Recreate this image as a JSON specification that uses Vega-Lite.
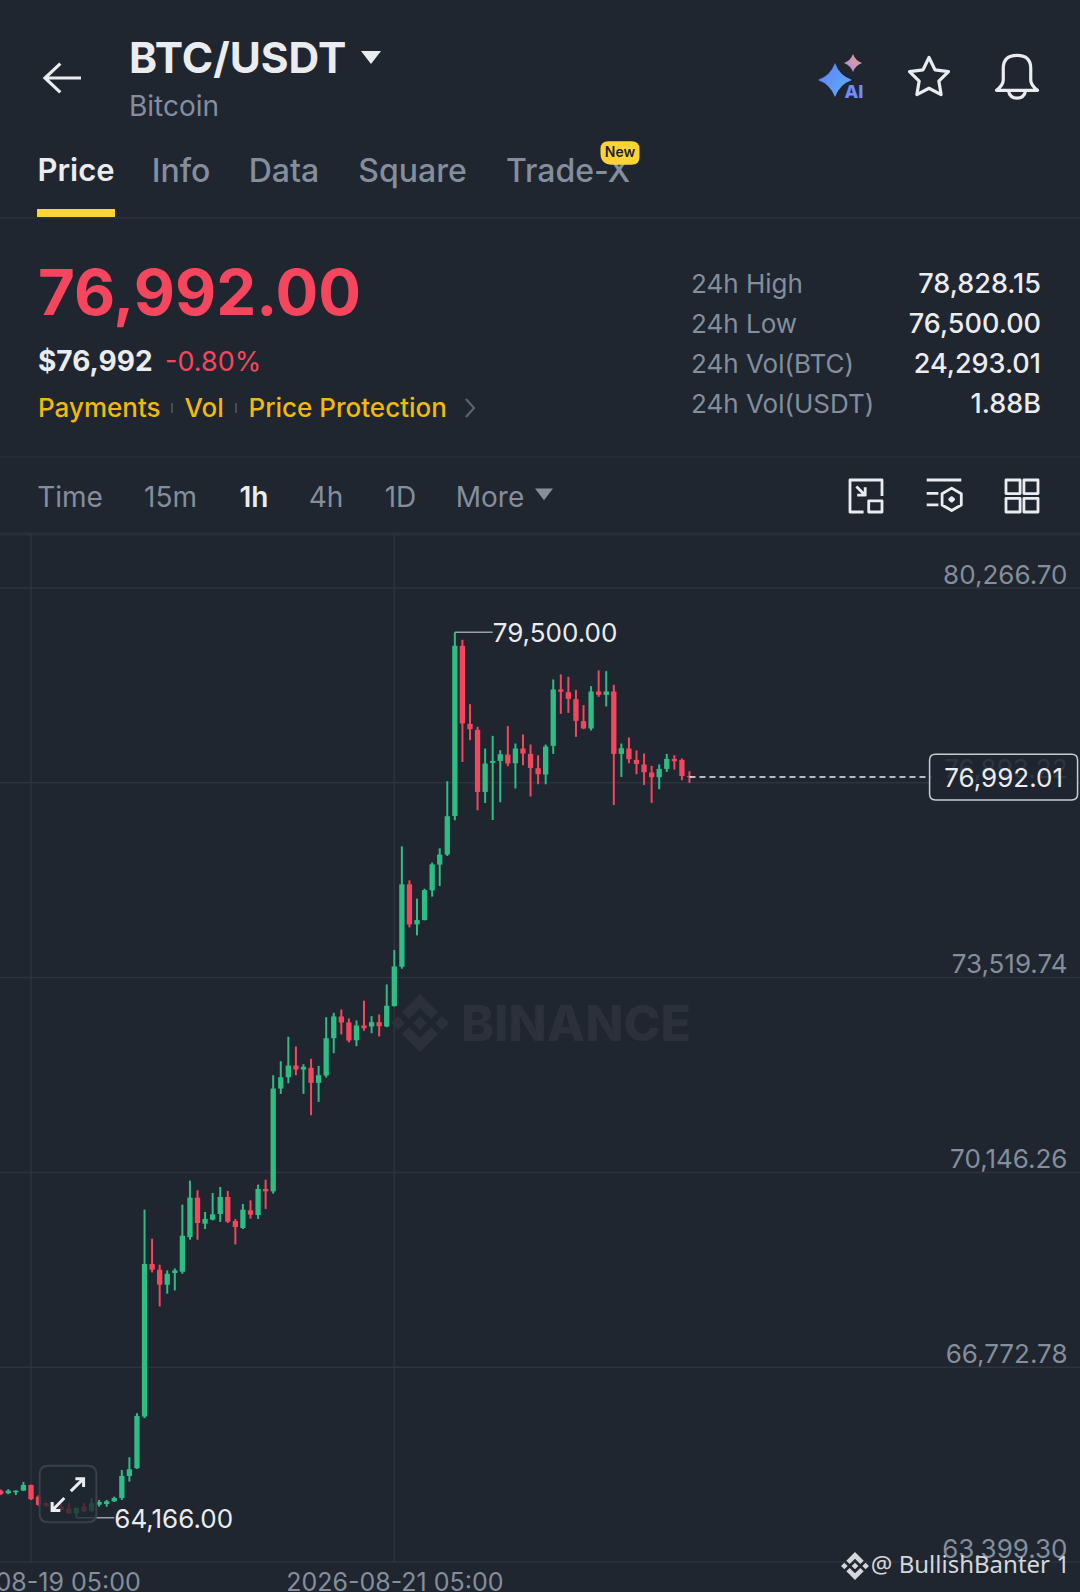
{
  "$schema": "https://vega.github.io/schema/vega-lite/v6.json",
  "width": 1080,
  "height": 1592,
  "autosize": {"type": "none"},
  "padding": 0,
  "background": "#1f2630",
  "config": {"view": {"stroke": null}, "font": "Inter", "scale": {"pointPadding": 0}},
  "resolve": {"scale": {"x": "independent", "y": "independent", "shape": "independent"}},
  "datasets": {
    "candles": [
      {"t":"2026-08-19T01:00","o":64635,"h":64656,"l":64560,"c":64578},
      {"t":"2026-08-19T02:00","o":64590,"h":64659,"l":64573,"c":64635},
      {"t":"2026-08-19T03:00","o":64607,"h":64640,"l":64560,"c":64635},
      {"t":"2026-08-19T04:00","o":64635,"h":64786,"l":64630,"c":64734},
      {"t":"2026-08-19T05:00","o":64734,"h":64739,"l":64474,"c":64486},
      {"t":"2026-08-19T06:00","o":64531,"h":64555,"l":64370,"c":64387},
      {"t":"2026-08-19T07:00","o":64417,"h":64427,"l":64358,"c":64370},
      {"t":"2026-08-19T08:00","o":64387,"h":64422,"l":64318,"c":64344},
      {"t":"2026-08-19T09:00","o":64358,"h":64404,"l":64288,"c":64300},
      {"t":"2026-08-19T10:00","o":64323,"h":64417,"l":64231,"c":64243},
      {"t":"2026-08-19T11:00","o":64243,"h":64347,"l":64166,"c":64335},
      {"t":"2026-08-19T12:00","o":64358,"h":64417,"l":64266,"c":64278},
      {"t":"2026-08-19T13:00","o":64288,"h":64508,"l":64266,"c":64417},
      {"t":"2026-08-19T14:00","o":64392,"h":64474,"l":64358,"c":64439},
      {"t":"2026-08-19T15:00","o":64404,"h":64474,"l":64358,"c":64451},
      {"t":"2026-08-19T16:00","o":64451,"h":64531,"l":64439,"c":64508},
      {"t":"2026-08-19T17:00","o":64508,"h":64994,"l":64474,"c":64890},
      {"t":"2026-08-19T18:00","o":64890,"h":65214,"l":64791,"c":65006},
      {"t":"2026-08-19T19:00","o":65023,"h":65977,"l":65011,"c":65930},
      {"t":"2026-08-19T20:00","o":65918,"h":69501,"l":65890,"c":68560},
      {"t":"2026-08-19T21:00","o":68560,"h":68998,"l":68414,"c":68461},
      {"t":"2026-08-19T22:00","o":68461,"h":68547,"l":67825,"c":68201},
      {"t":"2026-08-19T23:00","o":68201,"h":68449,"l":68045,"c":68391},
      {"t":"2026-08-20T00:00","o":68404,"h":68483,"l":68102,"c":68449},
      {"t":"2026-08-20T01:00","o":68426,"h":69588,"l":68391,"c":69050},
      {"t":"2026-08-20T02:00","o":69028,"h":70004,"l":68981,"c":69709},
      {"t":"2026-08-20T03:00","o":69709,"h":69836,"l":68981,"c":69270},
      {"t":"2026-08-20T04:00","o":69258,"h":69461,"l":69166,"c":69340},
      {"t":"2026-08-20T05:00","o":69328,"h":69791,"l":69315,"c":69420},
      {"t":"2026-08-20T06:00","o":69426,"h":69894,"l":69288,"c":69721},
      {"t":"2026-08-20T07:00","o":69721,"h":69825,"l":69270,"c":69293},
      {"t":"2026-08-20T08:00","o":69305,"h":69340,"l":68899,"c":69201},
      {"t":"2026-08-20T09:00","o":69184,"h":69600,"l":69166,"c":69501},
      {"t":"2026-08-20T10:00","o":69489,"h":69662,"l":69345,"c":69414},
      {"t":"2026-08-20T11:00","o":69409,"h":69934,"l":69340,"c":69860},
      {"t":"2026-08-20T12:00","o":69860,"h":70021,"l":69513,"c":69818},
      {"t":"2026-08-20T13:00","o":69818,"h":71829,"l":69778,"c":71598},
      {"t":"2026-08-20T14:00","o":71598,"h":72072,"l":71506,"c":71794},
      {"t":"2026-08-20T15:00","o":71794,"h":72495,"l":71690,"c":71997},
      {"t":"2026-08-20T16:00","o":71997,"h":72327,"l":71829,"c":71928},
      {"t":"2026-08-20T17:00","o":71928,"h":72020,"l":71506,"c":71975},
      {"t":"2026-08-20T18:00","o":71957,"h":72113,"l":71136,"c":71697},
      {"t":"2026-08-20T19:00","o":71697,"h":71992,"l":71368,"c":71829},
      {"t":"2026-08-20T20:00","o":71824,"h":72835,"l":71789,"c":72470},
      {"t":"2026-08-20T21:00","o":72470,"h":72911,"l":72210,"c":72847},
      {"t":"2026-08-20T22:00","o":72847,"h":72968,"l":72535,"c":72743},
      {"t":"2026-08-20T23:00","o":72743,"h":72812,"l":72396,"c":72431},
      {"t":"2026-08-21T00:00","o":72436,"h":72777,"l":72332,"c":72691},
      {"t":"2026-08-21T01:00","o":72691,"h":73119,"l":72599,"c":72644},
      {"t":"2026-08-21T02:00","o":72673,"h":72852,"l":72557,"c":72748},
      {"t":"2026-08-21T03:00","o":72748,"h":72881,"l":72500,"c":72678},
      {"t":"2026-08-21T04:00","o":72673,"h":73401,"l":72661,"c":73032},
      {"t":"2026-08-21T05:00","o":73025,"h":73996,"l":73020,"c":73713},
      {"t":"2026-08-21T06:00","o":73708,"h":75794,"l":73673,"c":75135},
      {"t":"2026-08-21T07:00","o":75135,"h":75204,"l":74389,"c":74441},
      {"t":"2026-08-21T08:00","o":74441,"h":74887,"l":74251,"c":74516},
      {"t":"2026-08-21T09:00","o":74516,"h":75060,"l":74511,"c":75036},
      {"t":"2026-08-21T10:00","o":75031,"h":75511,"l":74922,"c":75481},
      {"t":"2026-08-21T11:00","o":75476,"h":75759,"l":75105,"c":75650},
      {"t":"2026-08-21T12:00","o":75650,"h":76920,"l":75625,"c":76314},
      {"t":"2026-08-21T13:00","o":76319,"h":79500,"l":76244,"c":79266},
      {"t":"2026-08-21T14:00","o":79266,"h":79370,"l":77255,"c":77921},
      {"t":"2026-08-21T15:00","o":77914,"h":78255,"l":77631,"c":77822},
      {"t":"2026-08-21T16:00","o":77810,"h":77862,"l":76418,"c":76735},
      {"t":"2026-08-21T17:00","o":76735,"h":77487,"l":76544,"c":77227},
      {"t":"2026-08-21T18:00","o":77238,"h":77706,"l":76249,"c":77272},
      {"t":"2026-08-21T19:00","o":77272,"h":77458,"l":76556,"c":77388},
      {"t":"2026-08-21T20:00","o":77383,"h":77874,"l":77180,"c":77227},
      {"t":"2026-08-21T21:00","o":77232,"h":77574,"l":76794,"c":77487},
      {"t":"2026-08-21T22:00","o":77487,"h":77730,"l":77198,"c":77400},
      {"t":"2026-08-21T23:00","o":77394,"h":77556,"l":76655,"c":77151},
      {"t":"2026-08-22T00:00","o":77146,"h":77371,"l":76868,"c":77042},
      {"t":"2026-08-22T01:00","o":77036,"h":77556,"l":76868,"c":77522},
      {"t":"2026-08-22T02:00","o":77532,"h":78683,"l":77394,"c":78510},
      {"t":"2026-08-22T03:00","o":78510,"h":78770,"l":78087,"c":78469},
      {"t":"2026-08-22T04:00","o":78463,"h":78728,"l":78104,"c":78347},
      {"t":"2026-08-22T05:00","o":78342,"h":78503,"l":77688,"c":77966},
      {"t":"2026-08-22T06:00","o":77960,"h":78238,"l":77822,"c":77834},
      {"t":"2026-08-22T07:00","o":77834,"h":78567,"l":77799,"c":78475},
      {"t":"2026-08-22T08:00","o":78475,"h":78839,"l":78382,"c":78416},
      {"t":"2026-08-22T09:00","o":78416,"h":78827,"l":78215,"c":78475},
      {"t":"2026-08-22T10:00","o":78475,"h":78590,"l":76509,"c":77394},
      {"t":"2026-08-22T11:00","o":77394,"h":77574,"l":76995,"c":77492},
      {"t":"2026-08-22T12:00","o":77487,"h":77678,"l":77232,"c":77302},
      {"t":"2026-08-22T13:00","o":77290,"h":77453,"l":77042,"c":77220},
      {"t":"2026-08-22T14:00","o":77210,"h":77400,"l":76856,"c":77076},
      {"t":"2026-08-22T15:00","o":77071,"h":77186,"l":76544,"c":76990},
      {"t":"2026-08-22T16:00","o":76990,"h":77210,"l":76782,"c":77134},
      {"t":"2026-08-22T17:00","o":77134,"h":77394,"l":77082,"c":77307},
      {"t":"2026-08-22T18:00","o":77307,"h":77371,"l":77123,"c":77267},
      {"t":"2026-08-22T19:00","o":77290,"h":77314,"l":76938,"c":77012},
      {"t":"2026-08-22T20:00","o":77007,"h":77094,"l":76891,"c":76992.01}
    ],
    "extremes": [
      {"t":"2026-08-21T13:00","t2":"2026-08-21T18:00","price":79500,"label":"79,500.00"},
      {"t":"2026-08-19T11:00","t2":"2026-08-19T16:00","price":64166,"label":"64,166.00"}
    ],
    "stats": [
      {"stat":"24h High","value":"78,828.15"},
      {"stat":"24h Low","value":"76,500.00"},
      {"stat":"24h Vol(BTC)","value":"24,293.01"},
      {"stat":"24h Vol(USDT)","value":"1.88B"}
    ]
  },
  "layer": [
    {
      "data": {"values": [{"line":"tabs"},{"line":"price"}]},
      "mark": {"type": "rule", "color": "#2c313c", "strokeWidth": 1.5},
      "encoding": {"y": {"field":"line","type":"nominal","sort":null,"axis":null,"scale":{"type":"point","range":[218,457]}}}
    },
    {
      "data": {"values": [{"line":"chart top"}]},
      "mark": {"type": "rule", "color": "#2a2f3a", "strokeWidth": 3},
      "encoding": {"y": {"field":"line","type":"nominal","axis":null,"scale":{"type":"point","range":[534,534]}}}
    },
    {
      "data": {"values": [{"price":63399.3},{"price":66772.78},{"price":70146.26},{"price":73519.74},{"price":76893.22},{"price":80266.7}]},
      "mark": {"type":"rule","color":"#2e333e","strokeWidth":1.5},
      "encoding": {"y": {"field":"price","type":"quantitative","axis":null,"scale":{"domain":[63399.3,80266.7],"range":[1562,588]}}}
    },
    {
      "data": {"values": [{"label":"BINANCE"}]},
      "mark": {"type":"text","align":"center","baseline":"middle","font":"Inter","fontSize":50,"fontWeight":800,"color":"#2b303b"},
      "encoding": {
        "x": {"field":"label","type":"nominal","axis":null,"scale":{"range":[576,576]}},
        "y": {"field":"label","type":"nominal","axis":null,"scale":{"range":[1026,1026]}},
        "text": {"field":"label"}
      }
    },
    {
      "data": {"values": [{"label":"watermark"}]},
      "mark": {"type":"point","filled":true,"opacity":1,"color":"#2b303b","size":3364,"shape":"M0,-1 L0.62,-0.38 L0.38,-0.14 L0,-0.52 L-0.38,-0.14 L-0.62,-0.38 Z M0,1 L0.62,0.38 L0.38,0.14 L0,0.52 L-0.38,0.14 L-0.62,0.38 Z M-0.76,-0.24 L-0.52,0 L-0.76,0.24 L-1,0 Z M0.76,-0.24 L1,0 L0.76,0.24 L0.52,0 Z M0,-0.24 L0.24,0 L0,0.24 L-0.24,0 Z"},
      "encoding": {
        "x": {"field":"label","type":"nominal","axis":null,"scale":{"range":[420,420]}},
        "y": {"field":"label","type":"nominal","axis":null,"scale":{"range":[1023,1023]}}
      }
    },
    {
      "data": {"values": [{"t":"2026-08-19T05:00"},{"t":"2026-08-21T05:00"}]},
      "mark": {"type":"rule","color":"#2e333e","strokeWidth":1.5},
      "encoding": {
        "x": {"field":"t","type":"temporal","axis":null,"scale":{"domain":[{"year":2026,"month":8,"date":19,"hours":5},{"year":2026,"month":8,"date":21,"hours":5}],"range":[31,394.3]}},
        "y": {"datum":81203,"axis":null,"scale":{"domain":[63399.3,80266.7],"range":[1562,588]}},
        "y2": {"datum":63399.3}
      }
    },
    {
      "data": {"name": "candles"},
      "mark": {"type":"rule","strokeWidth":2},
      "encoding": {
        "x": {
          "field":"t","type":"temporal",
          "scale":{"domain":[{"year":2026,"month":8,"date":19,"hours":5},{"year":2026,"month":8,"date":21,"hours":5}],"range":[31,394.3]},
          "axis":{"orient":"bottom","title":null,"values":[{"year":2026,"month":8,"date":19,"hours":5},{"year":2026,"month":8,"date":21,"hours":5}],"format":"%Y-%m-%d %H:%M","domain":false,"ticks":false,"grid":false,"labelBaseline":"middle","labelPadding":-10,"labelColor":"#848e9c","labelFont":"Inter","labelFontSize":25,"labelLimit":400,"labelOverlap":false,"labelFlush":false}
        },
        "y": {
          "field":"l","type":"quantitative",
          "scale":{"domain":[63399.3,80266.7],"range":[1562,588]},
          "axis": {"orient":"right","title":null,"values":[63399.3,66772.78,70146.26,73519.74,76893.22,80266.7],"format":",.2f","domain":false,"ticks":false,"grid":false,"labelAlign":"right","labelBaseline":"middle","labelPadding":-13,"labelOffset":-13,"labelColor":"#848e9c","labelFont":"Inter","labelFontSize":26,"labelOverlap":false,"labelFlush":false,"zindex":0}
        },
        "y2": {"field":"h"},
        "color": {"condition":{"test":"datum.c >= datum.o","value":"#2ebd85"},"value":"#f6465d"}
      }
    },
    {
      "data": {"name": "candles"},
      "mark": {"type":"rule","strokeWidth":5.3},
      "encoding": {
        "x": {"field":"t","type":"temporal","axis":null,"scale":{"domain":[{"year":2026,"month":8,"date":19,"hours":5},{"year":2026,"month":8,"date":21,"hours":5}],"range":[31,394.3]}},
        "y": {"field":"o","type":"quantitative","axis":null,"scale":{"domain":[63399.3,80266.7],"range":[1562,588]}},
        "y2": {"field":"c"},
        "color": {"condition":{"test":"datum.c >= datum.o","value":"#2ebd85"},"value":"#f6465d"}
      }
    },
    {
      "data": {"name": "extremes"},
      "mark": {"type":"rule","color":"#9aa0a8","strokeWidth":1.5},
      "encoding": {
        "x": {"field":"t","type":"temporal","axis":null,"scale":{"domain":[{"year":2026,"month":8,"date":19,"hours":5},{"year":2026,"month":8,"date":21,"hours":5}],"range":[31,394.3]}},
        "x2": {"field":"t2"},
        "y": {"field":"price","type":"quantitative","axis":null,"scale":{"domain":[63399.3,80266.7],"range":[1562,588]}}
      }
    },
    {
      "data": {"name": "extremes"},
      "mark": {"type":"text","align":"left","baseline":"middle","dy":2,"font":"Inter","fontSize":26,"color":"#eaecef"},
      "encoding": {
        "x": {"field":"t2","type":"temporal","axis":null,"scale":{"domain":[{"year":2026,"month":8,"date":19,"hours":5},{"year":2026,"month":8,"date":21,"hours":5}],"range":[31,394.3]}},
        "y": {"field":"price","type":"quantitative","axis":null,"scale":{"domain":[63399.3,80266.7],"range":[1562,588]}},
        "text": {"field":"label"}
      }
    },
    {
      "data": {"values": [{"t":"2026-08-22T20:00","t2":"2026-08-24T04:00","price":76992.01}]},
      "mark": {"type":"rule","color":"#eaecef","strokeWidth":1.5,"strokeDash":[6,4]},
      "encoding": {
        "x": {"field":"t","type":"temporal","axis":null,"scale":{"domain":[{"year":2026,"month":8,"date":19,"hours":5},{"year":2026,"month":8,"date":21,"hours":5}],"range":[31,394.3]}},
        "x2": {"field":"t2"},
        "y": {"field":"price","type":"quantitative","axis":null,"scale":{"domain":[63399.3,80266.7],"range":[1562,588]}}
      }
    },
    {
      "data": {"values": [{"t":"2026-08-24T13:30","price":76992.01}]},
      "mark": {"type":"point","filled":true,"opacity":1,"fill":"#1f2630","fillOpacity":0.85,"stroke":"#c9ccd1","strokeWidth":1.5,"size":21904,"shape":"M-0.92,-0.31 H0.92 Q1,-0.31 1,-0.23 V0.23 Q1,0.31 0.92,0.31 H-0.92 Q-1,0.31 -1,0.23 V-0.23 Q-1,-0.31 -0.92,-0.31 Z"},
      "encoding": {
        "x": {"field":"t","type":"temporal","axis":null,"scale":{"domain":[{"year":2026,"month":8,"date":19,"hours":5},{"year":2026,"month":8,"date":21,"hours":5}],"range":[31,394.3]}},
        "y": {"field":"price","type":"quantitative","axis":null,"scale":{"domain":[63399.3,80266.7],"range":[1562,588]}}
      }
    },
    {
      "data": {"values": [{"t":"2026-08-24T13:30","price":76992.01}]},
      "mark": {"type":"text","align":"center","baseline":"middle","dy":2,"font":"Inter","fontSize":26,"color":"#eaecef"},
      "encoding": {
        "x": {"field":"t","type":"temporal","axis":null,"scale":{"domain":[{"year":2026,"month":8,"date":19,"hours":5},{"year":2026,"month":8,"date":21,"hours":5}],"range":[31,394.3]}},
        "y": {"field":"price","type":"quantitative","axis":null,"scale":{"domain":[63399.3,80266.7],"range":[1562,588]}},
        "text": {"field":"price","type":"quantitative","format":",.2f"}
      }
    },
    {
      "data": {"values": [{"label":"expand"}]},
      "mark": {"type":"point","filled":true,"opacity":1,"fill":"#1f2630","fillOpacity":0.78,"stroke":"#3a3f4a","strokeWidth":2,"size":3215,"shape":"M-0.7,-1 H0.7 Q1,-1 1,-0.7 V0.7 Q1,1 0.7,1 H-0.7 Q-1,1 -1,0.7 V-0.7 Q-1,-1 -0.7,-1 Z"},
      "encoding": {
        "x": {"field":"label","type":"nominal","axis":null,"scale":{"range":[68,68]}},
        "y": {"field":"label","type":"nominal","axis":null,"scale":{"range":[1494,1494]}}
      }
    },
    {
      "data": {"values": [{"label":"expand"}]},
      "mark": {"type":"point","filled":false,"opacity":1,"color":"#eaecef","strokeWidth":3,"size":3215,"shape":"M0.1,-0.1 L0.55,-0.54 M0.26,-0.54 H0.55 V-0.25 M-0.13,0.14 L-0.56,0.58 M-0.56,0.28 V0.58 H-0.27"},
      "encoding": {
        "x": {"field":"label","type":"nominal","axis":null,"scale":{"range":[68,68]}},
        "y": {"field":"label","type":"nominal","axis":null,"scale":{"range":[1494,1494]}}
      }
    },
    {
      "data": {"values": [{"label":"logo"}]},
      "mark": {"type":"point","filled":true,"opacity":1,"color":"#d5d7db","size":784,"shape":"M0,-1 L0.62,-0.38 L0.38,-0.14 L0,-0.52 L-0.38,-0.14 L-0.62,-0.38 Z M0,1 L0.62,0.38 L0.38,0.14 L0,0.52 L-0.38,0.14 L-0.62,0.38 Z M-0.76,-0.24 L-0.52,0 L-0.76,0.24 L-1,0 Z M0.76,-0.24 L1,0 L0.76,0.24 L0.52,0 Z M0,-0.24 L0.24,0 L0,0.24 L-0.24,0 Z"},
      "encoding": {
        "x": {"field":"label","type":"nominal","axis":null,"scale":{"range":[855,855]}},
        "y": {"field":"label","type":"nominal","axis":null,"scale":{"range":[1566,1566]}}
      }
    },
    {
      "data": {"values": [{"label":"@ BullishBanter 1"}]},
      "mark": {"type":"text","align":"right","baseline":"middle","font":"Noto Sans","fontSize":24,"color":"#d5d7db"},
      "encoding": {
        "x": {"field":"label","type":"nominal","axis":null,"scale":{"range":[1070,1070]}},
        "y": {"field":"label","type":"nominal","axis":null,"scale":{"range":[1566,1566]}},
        "text": {"field":"label"}
      }
    },
    {
      "data": {"values": [{"label":"BTC/USDT"}]},
      "mark": {"type":"text","align":"left","baseline":"middle","font":"Inter","fontSize":42.5,"fontWeight":700,"color":"#eaecef"},
      "encoding": {
        "x": {"field":"label","type":"nominal","axis":null,"scale":{"range":[129,129]}},
        "y": {"field":"label","type":"nominal","axis":null,"scale":{"range":[60,60]}},
        "text": {"field":"label"}
      }
    },
    {
      "data": {"values": [{"label":"Bitcoin"}]},
      "mark": {"type":"text","align":"left","baseline":"middle","font":"Inter","fontSize":28,"color":"#848e9c"},
      "encoding": {
        "x": {"field":"label","type":"nominal","axis":null,"scale":{"range":[129,129]}},
        "y": {"field":"label","type":"nominal","axis":null,"scale":{"range":[108,108]}},
        "text": {"field":"label"}
      }
    },
    {
      "data": {"values": [{"label":"back"}]},
      "mark": {"type":"point","filled":false,"opacity":1,"color":"#eaecef","strokeWidth":3.2,"size":1296,"shape":"M1,0 H-1 M-0.15,-0.8 L-1,0 L-0.15,0.8"},
      "encoding": {
        "x": {"field":"label","type":"nominal","axis":null,"scale":{"range":[63,63]}},
        "y": {"field":"label","type":"nominal","axis":null,"scale":{"range":[78,78]}}
      }
    },
    {
      "data": {"values": [{"label":"pair menu"}]},
      "mark": {"type":"point","filled":true,"opacity":1,"color":"#eaecef","size":400,"shape":"M-1,-0.6 H1 L0,0.7 Z"},
      "encoding": {
        "x": {"field":"label","type":"nominal","axis":null,"scale":{"range":[371,371]}},
        "y": {"field":"label","type":"nominal","axis":null,"scale":{"range":[57,57]}}
      }
    },
    {
      "data": {"values": [{"label":"sparkle"}]},
      "mark": {"type":"point","filled":true,"opacity":1,"size":1156,"fill":{"gradient":"linear","x1":0,"y1":0,"x2":1,"y2":1,"stops":[{"offset":0,"color":"#5f7dfa"},{"offset":1,"color":"#5fb0ff"}]},"shape":"M0,-1 Q0.26,-0.26 1,0 Q0.26,0.26 0,1 Q-0.26,0.26 -1,0 Q-0.26,-0.26 0,-1 Z"},
      "encoding": {
        "x": {"field":"label","type":"nominal","axis":null,"scale":{"range":[835,835]}},
        "y": {"field":"label","type":"nominal","axis":null,"scale":{"range":[80,80]}}
      }
    },
    {
      "data": {"values": [{"label":"small sparkle"}]},
      "mark": {"type":"point","filled":true,"opacity":1,"size":324,"fill":{"gradient":"linear","x1":0,"y1":1,"x2":1,"y2":0,"stops":[{"offset":0,"color":"#a98cf0"},{"offset":1,"color":"#e8a27c"}]},"shape":"M0,-1 Q0.26,-0.26 1,0 Q0.26,0.26 0,1 Q-0.26,0.26 -1,0 Q-0.26,-0.26 0,-1 Z"},
      "encoding": {
        "x": {"field":"label","type":"nominal","axis":null,"scale":{"range":[853,853]}},
        "y": {"field":"label","type":"nominal","axis":null,"scale":{"range":[63,63]}}
      }
    },
    {
      "data": {"values": [{"label":"AI"}]},
      "mark": {"type":"text","align":"center","baseline":"middle","font":"Inter","fontSize":18,"fontWeight":800,"color":"#6f8cf8"},
      "encoding": {
        "x": {"field":"label","type":"nominal","axis":null,"scale":{"range":[854,854]}},
        "y": {"field":"label","type":"nominal","axis":null,"scale":{"range":[93,93]}},
        "text": {"field":"label"}
      }
    },
    {
      "data": {"values": [{"label":"star"},{"label":"bell"}]},
      "mark": {"type":"point","filled":false,"opacity":1,"color":"#eaecef","strokeWidth":3.2,"strokeJoin":"round","size":1681},
      "encoding": {
        "x": {"field":"label","type":"nominal","sort":null,"axis":null,"scale":{"range":[929,1017]}},
        "y": {"field":"label","type":"nominal","axis":null,"scale":{"range":[78,78]}},
        "shape": {"field":"label","type":"nominal","legend":null,"scale":{"domain":["star","bell"],"range":["M0,-1 L0.29,-0.4 L0.95,-0.31 L0.48,0.15 L0.59,0.81 L0,0.5 L-0.59,0.81 L-0.48,0.15 L-0.95,-0.31 L-0.29,-0.4 Z","M-1,0.6 Q-0.67,0.35 -0.67,0.1 V-0.47 Q-0.67,-1.1 0,-1.1 Q0.67,-1.1 0.67,-0.47 V0.1 Q0.67,0.35 1,0.6 Z M-0.42,0.62 Q-0.35,0.98 0,0.98 Q0.35,0.98 0.42,0.62"]}}
      }
    },
    {
      "data": {"values": [{"label":"Price"}]},
      "mark": {"type":"text","align":"center","baseline":"middle","font":"Inter","fontSize":31,"fontWeight":600,"color":"#eaecef"},
      "encoding": {
        "x": {"field":"label","type":"nominal","axis":null,"scale":{"range":[76,76]}},
        "y": {"field":"label","type":"nominal","axis":null,"scale":{"range":[172,172]}},
        "text": {"field":"label"}
      }
    },
    {
      "data": {"values": [{"label":"Info"},{"label":"Data"}]},
      "mark": {"type":"text","align":"center","baseline":"middle","font":"Inter","fontSize":32,"fontWeight":500,"color":"#848e9c"},
      "encoding": {
        "x": {"field":"label","type":"nominal","sort":null,"axis":null,"scale":{"range":[181,284]}},
        "y": {"field":"label","type":"nominal","axis":null,"scale":{"range":[172,172]}},
        "text": {"field":"label"}
      }
    },
    {
      "data": {"values": [{"label":"Square"},{"label":"Trade-X"}]},
      "mark": {"type":"text","align":"center","baseline":"middle","font":"Inter","fontSize":32,"fontWeight":500,"color":"#848e9c"},
      "encoding": {
        "x": {"field":"label","type":"nominal","sort":null,"axis":null,"scale":{"range":[412.5,568]}},
        "y": {"field":"label","type":"nominal","axis":null,"scale":{"range":[172,172]}},
        "text": {"field":"label"}
      }
    },
    {
      "data": {"values": [{"label":"Price"}]},
      "mark": {"type":"point","filled":true,"opacity":1,"color":"#fcd535","size":6084,"shape":"M-1,-0.1 H1 V0.1 H-1 Z"},
      "encoding": {
        "x": {"field":"label","type":"nominal","axis":null,"scale":{"range":[76,76]}},
        "y": {"field":"label","type":"nominal","axis":null,"scale":{"range":[213,213]}}
      }
    },
    {
      "data": {"values": [{"label":"New"}]},
      "mark": {"type":"point","filled":true,"opacity":1,"color":"#fcd535","size":1521,"shape":"M-0.6,-0.6 H0.6 Q1,-0.6 1,-0.2 V0.2 Q1,0.6 0.6,0.6 H-0.4 Q-1,0.6 -1,0 V-0.2 Q-1,-0.6 -0.6,-0.6 Z"},
      "encoding": {
        "x": {"field":"label","type":"nominal","axis":null,"scale":{"range":[620,620]}},
        "y": {"field":"label","type":"nominal","axis":null,"scale":{"range":[153,153]}}
      }
    },
    {
      "data": {"values": [{"label":"New"}]},
      "mark": {"type":"text","align":"center","baseline":"middle","font":"Inter","fontSize":14,"fontWeight":600,"color":"#1e2329"},
      "encoding": {
        "x": {"field":"label","type":"nominal","axis":null,"scale":{"range":[620,620]}},
        "y": {"field":"label","type":"nominal","axis":null,"scale":{"range":[153,153]}},
        "text": {"field":"label"}
      }
    },
    {
      "data": {"values": [{"label":"76,992.00"}]},
      "mark": {"type":"text","align":"left","baseline":"middle","font":"Inter","fontSize":63.5,"fontWeight":700,"color":"#f6465d"},
      "encoding": {
        "x": {"field":"label","type":"nominal","axis":null,"scale":{"range":[38,38]}},
        "y": {"field":"label","type":"nominal","axis":null,"scale":{"range":[296,296]}},
        "text": {"field":"label"}
      }
    },
    {
      "data": {"values": [{"label":"$76,992"}]},
      "mark": {"type":"text","align":"left","baseline":"middle","font":"Inter","fontSize":28,"fontWeight":700,"color":"#eaecef"},
      "encoding": {
        "x": {"field":"label","type":"nominal","axis":null,"scale":{"range":[38,38]}},
        "y": {"field":"label","type":"nominal","axis":null,"scale":{"range":[363,363]}},
        "text": {"field":"label"}
      }
    },
    {
      "data": {"values": [{"label":"-0.80%"}]},
      "mark": {"type":"text","align":"left","baseline":"middle","font":"Inter","fontSize":27,"color":"#f6465d"},
      "encoding": {
        "x": {"field":"label","type":"nominal","axis":null,"scale":{"range":[165,165]}},
        "y": {"field":"label","type":"nominal","axis":null,"scale":{"range":[363,363]}},
        "text": {"field":"label"}
      }
    },
    {
      "data": {"values": [{"label":"Payments"}]},
      "mark": {"type":"text","align":"left","baseline":"middle","font":"Inter","fontSize":26,"fontWeight":500,"color":"#f0b90b"},
      "encoding": {
        "x": {"field":"label","type":"nominal","axis":null,"scale":{"range":[38,38]}},
        "y": {"field":"label","type":"nominal","axis":null,"scale":{"range":[409,409]}},
        "text": {"field":"label"}
      }
    },
    {
      "data": {"values": [{"label":"Vol"},{"label":"Price Protection"}]},
      "mark": {"type":"text","align":"left","baseline":"middle","font":"Inter","fontSize":26,"fontWeight":500,"color":"#f0b90b"},
      "encoding": {
        "x": {"field":"label","type":"nominal","axis":null,"sort":null,"scale":{"range":[184.5,248.5]}},
        "y": {"field":"label","type":"nominal","axis":null,"scale":{"range":[409,409]}},
        "text": {"field":"label"}
      }
    },
    {
      "data": {"values": [{"label":"Payments | Vol"},{"label":"Vol | Price Protection"}]},
      "mark": {"type":"point","filled":false,"opacity":1,"color":"#474d57","strokeWidth":2,"size":100,"shape":"M0,-1 V1"},
      "encoding": {
        "x": {"field":"label","type":"nominal","sort":null,"axis":null,"scale":{"range":[172,236]}},
        "y": {"field":"label","type":"nominal","axis":null,"scale":{"range":[408,408]}}
      }
    },
    {
      "data": {"values": [{"label":"more"}]},
      "mark": {"type":"point","filled":false,"opacity":1,"color":"#5e6673","strokeWidth":2,"size":324,"shape":"M-0.45,-1 L0.45,0 L-0.45,1"},
      "encoding": {
        "x": {"field":"label","type":"nominal","axis":null,"scale":{"range":[470,470]}},
        "y": {"field":"label","type":"nominal","axis":null,"scale":{"range":[408,408]}}
      }
    },
    {
      "data": {"name": "stats"},
      "mark": {"type":"text","align":"left","baseline":"middle","font":"Inter","fontSize":26,"color":"#848e9c"},
      "encoding": {
        "x": {"datum":"24h","type":"nominal","axis":null,"scale":{"range":[691,691]}},
        "y": {"field":"stat","type":"nominal","sort":null,"axis":null,"scale":{"range":[285,405]}},
        "text": {"field":"stat"}
      }
    },
    {
      "data": {"name": "stats"},
      "mark": {"type":"text","align":"right","baseline":"middle","font":"Inter","fontSize":27,"fontWeight":500,"color":"#eaecef"},
      "encoding": {
        "x": {"datum":"value","type":"nominal","axis":null,"scale":{"range":[1041,1041]}},
        "y": {"field":"stat","type":"nominal","sort":null,"axis":null,"scale":{"range":[285,405]}},
        "text": {"field":"value"}
      }
    },
    {
      "data": {"values": [{"label":"Time"},{"label":"15m"}]},
      "mark": {"type":"text","align":"center","baseline":"middle","font":"Inter","fontSize":28,"color":"#848e9c"},
      "encoding": {
        "x": {"field":"label","type":"nominal","sort":null,"axis":null,"scale":{"range":[70,170.5]}},
        "y": {"field":"label","type":"nominal","axis":null,"scale":{"range":[499,499]}},
        "text": {"field":"label"}
      }
    },
    {
      "data": {"values": [{"label":"1h"}]},
      "mark": {"type":"text","align":"center","baseline":"middle","font":"Inter","fontSize":28,"fontWeight":600,"color":"#eaecef"},
      "encoding": {
        "x": {"field":"label","type":"nominal","axis":null,"scale":{"range":[254,254]}},
        "y": {"field":"label","type":"nominal","axis":null,"scale":{"range":[499,499]}},
        "text": {"field":"label"}
      }
    },
    {
      "data": {"values": [{"label":"4h"},{"label":"1D"}]},
      "mark": {"type":"text","align":"center","baseline":"middle","font":"Inter","fontSize":28,"color":"#848e9c"},
      "encoding": {
        "x": {"field":"label","type":"nominal","axis":null,"sort":null,"scale":{"range":[326,400.5]}},
        "y": {"field":"label","type":"nominal","axis":null,"scale":{"range":[499,499]}},
        "text": {"field":"label"}
      }
    },
    {
      "data": {"values": [{"label":"More"}]},
      "mark": {"type":"text","align":"center","baseline":"middle","font":"Inter","fontSize":28,"color":"#848e9c"},
      "encoding": {
        "x": {"field":"label","type":"nominal","axis":null,"scale":{"range":[490,490]}},
        "y": {"field":"label","type":"nominal","axis":null,"scale":{"range":[499,499]}},
        "text": {"field":"label"}
      }
    },
    {
      "data": {"values": [{"label":"more timeframes"}]},
      "mark": {"type":"point","filled":true,"opacity":1,"color":"#848e9c","size":324,"shape":"M-1,-0.6 H1 L0,0.7 Z"},
      "encoding": {
        "x": {"field":"label","type":"nominal","axis":null,"scale":{"range":[544,544]}},
        "y": {"field":"label","type":"nominal","axis":null,"scale":{"range":[494,494]}}
      }
    },
    {
      "data": {"values": [{"label":"layout"},{"label":"indicators"},{"label":"grid"}]},
      "mark": {"type":"point","filled":false,"opacity":1,"color":"#eaecef","strokeWidth":2.8,"strokeJoin":"round","size":1024},
      "encoding": {
        "x": {"field":"label","type":"nominal","sort":null,"axis":null,"scale":{"range":[866,1022]}},
        "y": {"field":"label","type":"nominal","axis":null,"scale":{"range":[496,496]}},
        "shape": {"field":"label","type":"nominal","legend":null,"scale":{"domain":["layout","indicators","grid"],"range":["M-0.15,1 H-1 V-1 H1 V0 M-0.6,-0.6 L-0.05,-0.05 M-0.05,-0.55 V-0.05 H-0.55 M0.17,0.3 H1 V1 H0.17 Z","M-1.08,-1 H1.08 M-1.08,-0.17 H-0.35 M-1.08,0.56 H-0.35 M0.48,-0.49 L1.08,-0.14 V0.56 L0.48,0.91 L-0.12,0.56 V-0.14 Z M0.48,0.1 L0.6,0.21 L0.48,0.32 L0.36,0.21 Z","M-1,-1 H-0.12 V-0.15 H-1 Z M0.12,-1 H1 V-0.15 H0.12 Z M-1,0.15 H-0.12 V1 H-1 Z M0.12,0.15 H1 V1 H0.12 Z"]}}
      }
    }
  ]
}
